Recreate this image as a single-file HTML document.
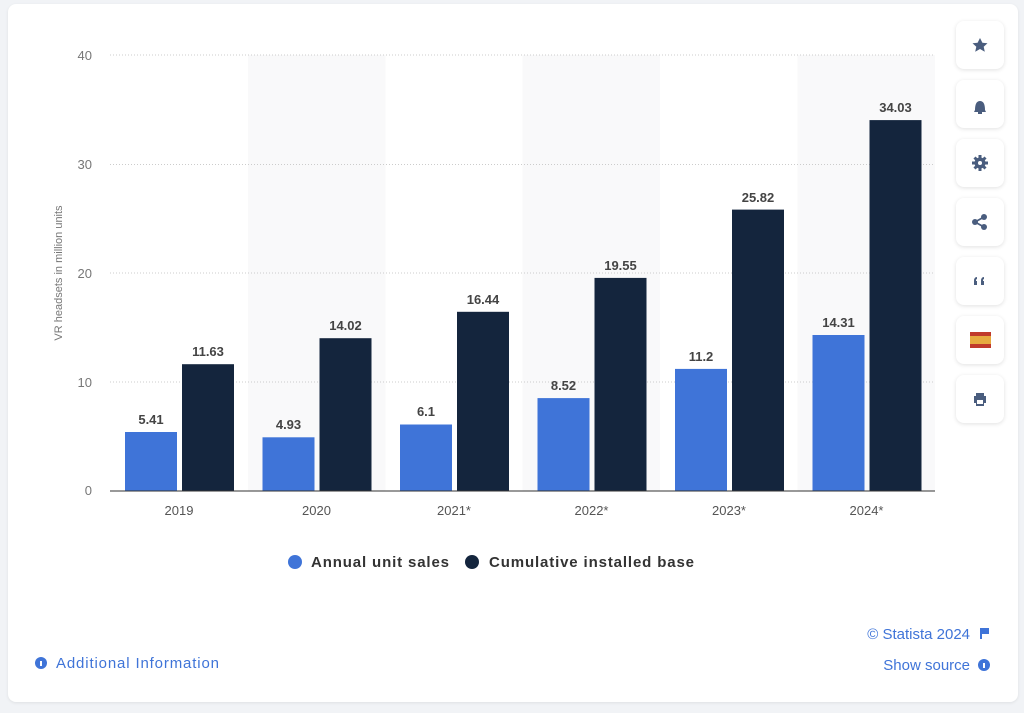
<!DOCTYPE html>
<html><head><style>
body{margin:0;background:#f1f3f6;width:1024px;height:713px;overflow:hidden;font-family:"Liberation Sans",sans-serif}
.card{position:absolute;left:8px;top:4px;width:1010px;height:698px;background:#fff;border-radius:8px;box-shadow:0 1px 3px rgba(0,0,0,.08)}
.btn{position:absolute;left:956px;width:48px;height:48px;background:#fff;border-radius:8px;box-shadow:0 1px 4px rgba(0,0,0,.12);display:flex;align-items:center;justify-content:center}
</style></head><body>
<div class="card"></div>
<svg width="1024" height="713" style="position:absolute;left:0;top:0" font-family="Liberation Sans, sans-serif">
<g fill="#f9f9fa">
<rect x="248" y="55" width="137.5" height="436"/>
<rect x="522.5" y="55" width="137.5" height="436"/>
<rect x="797.5" y="55" width="137.5" height="436"/>
</g>
<g stroke="#ccc" stroke-dasharray="1,2">
<line x1="110" x2="935" y1="55" y2="55"/><line x1="110" x2="935" y1="164.5" y2="164.5"/>
<line x1="110" x2="935" y1="273" y2="273"/><line x1="110" x2="935" y1="382" y2="382"/>
</g>
<g fill="#777" font-size="13" text-anchor="end">
<text x="92" y="60">40</text><text x="92" y="169">30</text><text x="92" y="278">20</text><text x="92" y="387">10</text><text x="92" y="495">0</text>
</g>
<text transform="translate(62,273) rotate(-90)" text-anchor="middle" font-size="11" fill="#777">VR headsets in million units</text>
<g fill="#3f74d8">
<rect x="125" y="432" width="52" height="59"/><rect x="262.5" y="437.3" width="52" height="53.7"/>
<rect x="400" y="424.5" width="52" height="66.5"/><rect x="537.5" y="398.1" width="52" height="92.9"/>
<rect x="675" y="368.9" width="52" height="122.1"/><rect x="812.5" y="335" width="52" height="156"/>
</g>
<g fill="#14253d">
<rect x="182" y="364.2" width="52" height="126.8"/><rect x="319.5" y="338.2" width="52" height="152.8"/>
<rect x="457" y="311.8" width="52" height="179.2"/><rect x="594.5" y="277.9" width="52" height="213.1"/>
<rect x="732" y="209.6" width="52" height="281.4"/><rect x="869.5" y="120.1" width="52" height="370.9"/>
</g>
<line x1="110" x2="935" y1="491" y2="491" stroke="#333" stroke-width="1"/>
<g fill="#444" font-size="13" font-weight="bold" text-anchor="middle">
<text x="151" y="424">5.41</text><text x="208" y="356">11.63</text>
<text x="288.5" y="429">4.93</text><text x="345.5" y="330">14.02</text>
<text x="426" y="416">6.1</text><text x="483" y="304">16.44</text>
<text x="563.5" y="390">8.52</text><text x="620.5" y="270">19.55</text>
<text x="701" y="361">11.2</text><text x="758" y="202">25.82</text>
<text x="838.5" y="327">14.31</text><text x="895.5" y="112">34.03</text>
</g>
<g fill="#555" font-size="13" text-anchor="middle">
<text x="179" y="515">2019</text><text x="316.5" y="515">2020</text><text x="454" y="515">2021*</text>
<text x="591.5" y="515">2022*</text><text x="729" y="515">2023*</text><text x="866.5" y="515">2024*</text>
</g>
<circle cx="295" cy="562" r="7" fill="#3f74d8"/>
<text x="311" y="567" font-size="15" font-weight="bold" fill="#333" textLength="138">Annual unit sales</text>
<circle cx="472" cy="562" r="7" fill="#14253d"/>
<text x="489" y="567" font-size="15" font-weight="bold" fill="#333" textLength="205">Cumulative installed base</text>
<g fill="#3f74d8" font-size="15">
<text x="970" y="639" text-anchor="end">© Statista 2024</text>
<text x="970" y="670" text-anchor="end">Show source</text>
<text x="56" y="668" textLength="163">Additional Information</text>
<circle cx="41" cy="663" r="6"/><circle cx="984" cy="665" r="6"/>
<rect x="980" y="628" width="2" height="11"/><rect x="982" y="628" width="7" height="6"/>
</g>
<g fill="#fff"><rect x="40" y="661" width="2" height="5"/><rect x="983" y="663" width="2" height="5"/></g>
<!-- icons -->
<g fill="#4a5d7e">
<polygon points="980,38 982.4,42.8 987.5,43.3 983.7,46.7 984.8,51.7 980,49 975.2,51.7 976.3,46.7 972.5,43.3 977.6,42.8"/>
<path d="M975 110 q0-9 5-9 q5 0 5 9 l1 2 h-12z"/><rect x="978" y="112" width="4" height="2"/>
<circle cx="980" cy="163" r="5.5"/>
<g stroke="#4a5d7e" stroke-width="3"><line x1="980" y1="155" x2="980" y2="171"/><line x1="972" y1="163" x2="988" y2="163"/><line x1="974.5" y1="157.5" x2="985.5" y2="168.5"/><line x1="985.5" y1="157.5" x2="974.5" y2="168.5"/></g>
<circle cx="975" cy="222" r="3"/><circle cx="984" cy="217" r="3"/><circle cx="984" cy="227" r="3"/>
<g stroke="#4a5d7e" stroke-width="1.8"><line x1="975" y1="222" x2="984" y2="217"/><line x1="975" y1="222" x2="984" y2="227"/></g>
<path d="M974 282 v-3 q0-3 3-3 v2 q-1 0 -1 1 h1 v3z M981 282 v-3 q0-3 3-3 v2 q-1 0 -1 1 h1 v3z"/>
<path d="M976 393 h8 v3 h2 v7 h-2 v3 h-8 v-3 h-2 v-7 h2z"/>
</g>
<rect x="977" y="399" width="6" height="5" fill="#fff"/>
</svg>
<div class="btn" style="top:21px"></div>
<div class="btn" style="top:80px"></div>
<div class="btn" style="top:139px"></div>
<div class="btn" style="top:198px"></div>
<div class="btn" style="top:257px"></div>
<div class="btn" style="top:316px"><div style="width:21px;height:16px;background:linear-gradient(#c0392b 0 25%,#e6a93f 25% 75%,#c0392b 75%)"></div></div>
<div class="btn" style="top:375px"></div>
<svg width="1024" height="713" style="position:absolute;left:0;top:0;pointer-events:none">
<g fill="#4a5d7e">
<polygon points="980,38 982.4,42.8 987.5,43.3 983.7,46.7 984.8,51.7 980,49 975.2,51.7 976.3,46.7 972.5,43.3 977.6,42.8"/>
<path d="M975 110 q0-9 5-9 q5 0 5 9 l1 2 h-12z"/><rect x="978" y="112" width="4" height="2"/>
<circle cx="980" cy="163" r="5.5"/>
<g stroke="#4a5d7e" stroke-width="3"><line x1="980" y1="155" x2="980" y2="171"/><line x1="972" y1="163" x2="988" y2="163"/><line x1="974.5" y1="157.5" x2="985.5" y2="168.5"/><line x1="985.5" y1="157.5" x2="974.5" y2="168.5"/></g>
<circle cx="980" cy="163" r="2" fill="#fff"/>
<circle cx="975" cy="222" r="3"/><circle cx="984" cy="217" r="3"/><circle cx="984" cy="227" r="3"/>
<g stroke="#4a5d7e" stroke-width="1.8"><line x1="975" y1="222" x2="984" y2="217"/><line x1="975" y1="222" x2="984" y2="227"/></g>
<path d="M974 285 v-4 q0-4 3-4 v2 q-1 0 -1 2 h1 v4z M981 285 v-4 q0-4 3-4 v2 q-1 0 -1 2 h1 v4z"/>
<path d="M976 393 h8 v3 h2 v7 h-2 v3 h-8 v-3 h-2 v-7 h2z"/>
<rect x="977" y="400" width="6" height="4" fill="#fff"/>
</g>
</svg>
</body></html>
